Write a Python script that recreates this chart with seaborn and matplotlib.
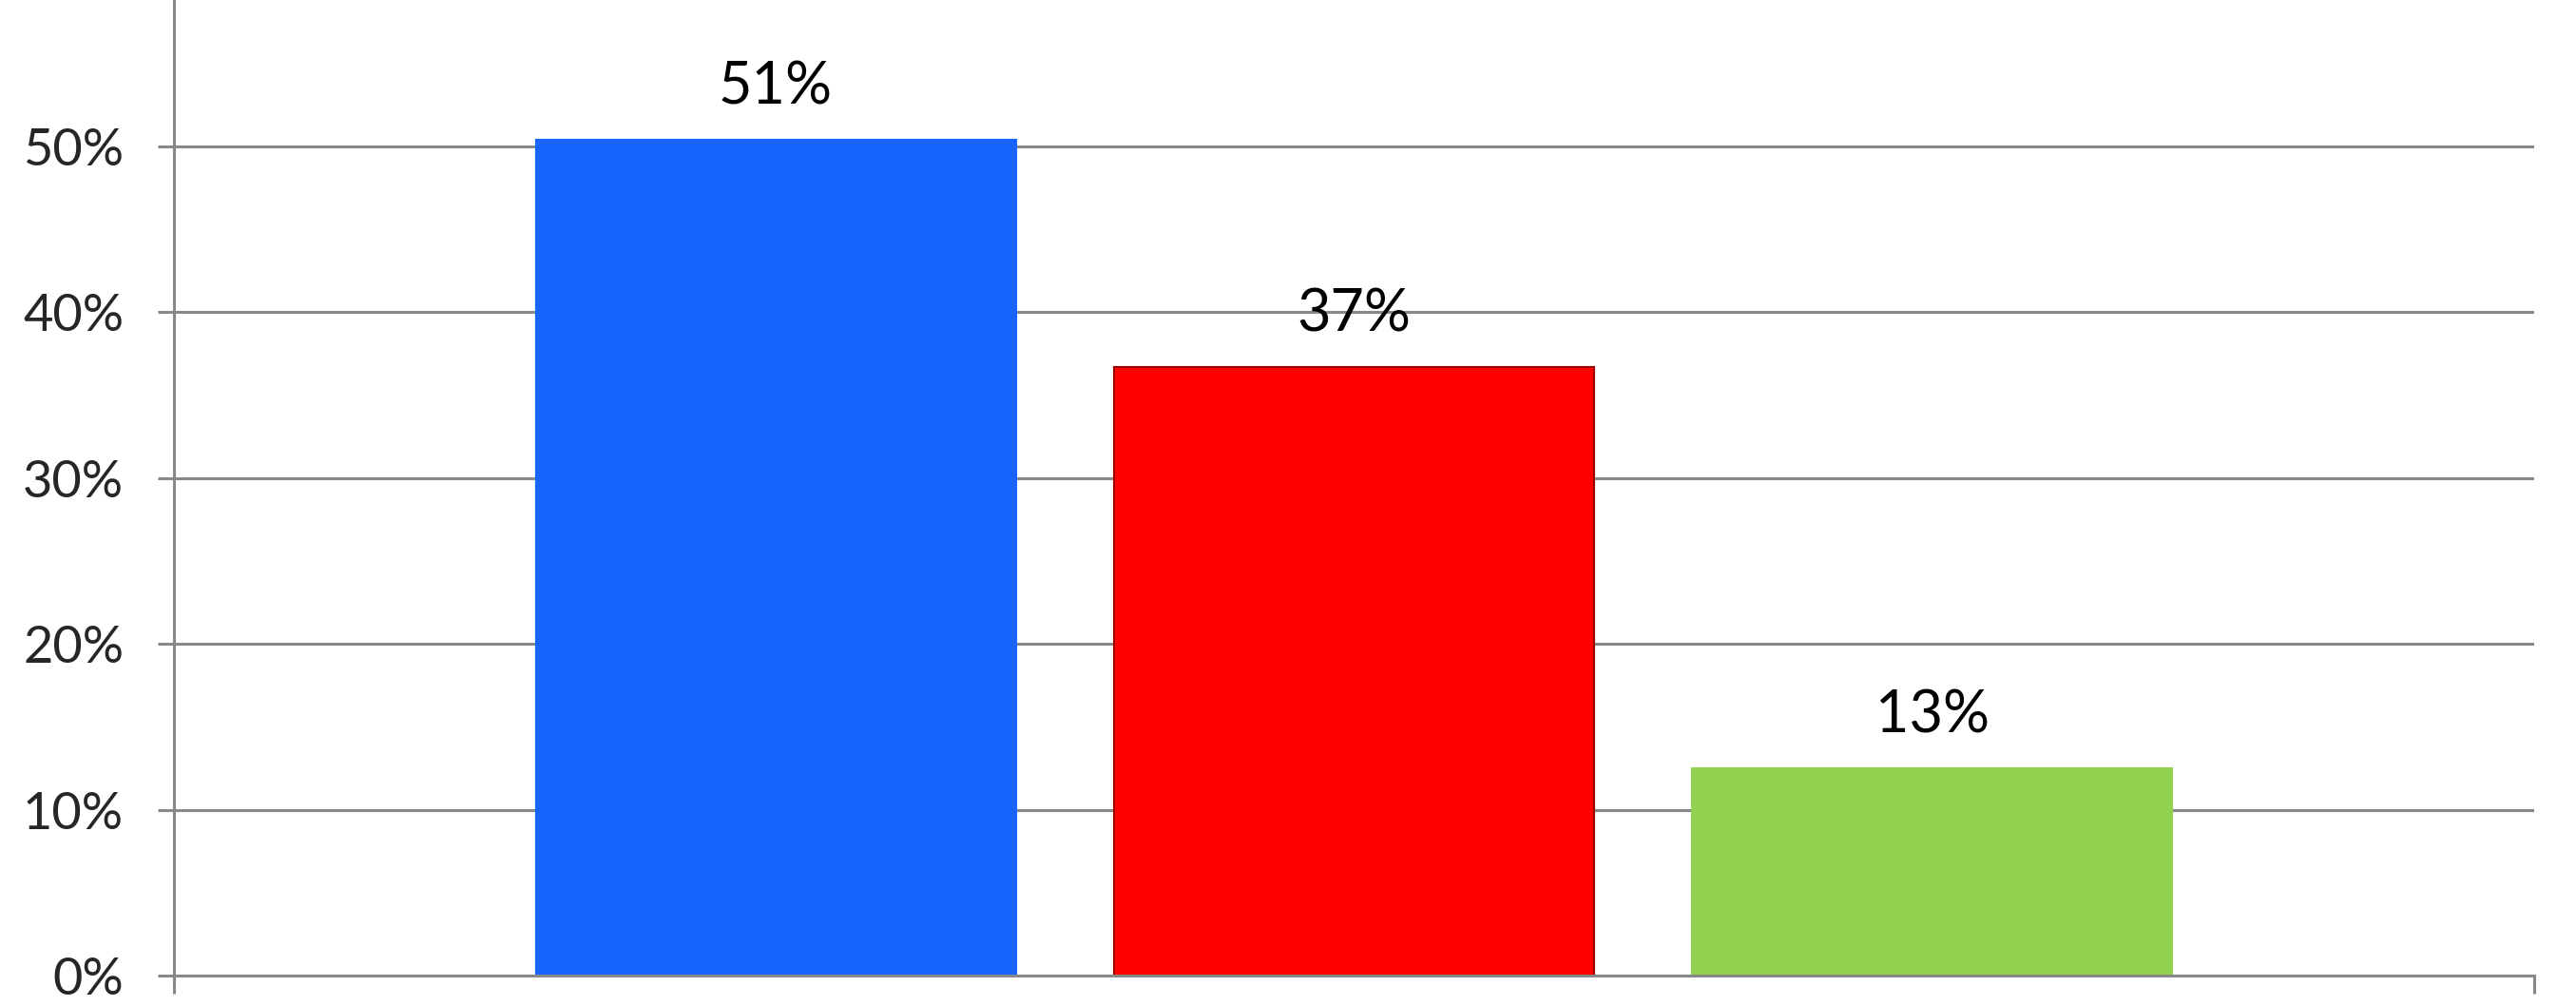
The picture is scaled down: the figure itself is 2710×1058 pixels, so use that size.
import matplotlib
matplotlib.use("Agg")
import matplotlib.pyplot as plt
import seaborn as sns
import pandas as pd

# data
series = ["A", "B", "C"]
values = [0.504, 0.367, 0.125]
labels = ["51%", "37%", "13%"]
colors = ["#1764FF", "#FF0000", "#92D050"]
edges = ["#1764FF", "#A00000", "#92D050"]
yticks = [0, 0.1, 0.2, 0.3, 0.4, 0.5]
ytick_labels = ["0%", "10%", "20%", "30%", "40%", "50%"]

df = pd.DataFrame({"cat": [""] * 3, "serie": series, "valor": values})

sns.set_style("white")
plt.rcParams["font.family"] = ["Lato", "DejaVu Sans"]

fig = plt.figure(figsize=(27.1, 10.58), dpi=100)
ax = fig.add_axes([0.0675, 0.0302, 0.9163, 0.9698])

sns.barplot(data=df, x="cat", y="valor", hue="serie", palette=colors,
            width=0.735, gap=0.17, legend=False, ax=ax, saturation=1)

for p, ec in zip(ax.patches, edges):
    p.set_edgecolor(ec)
    p.set_linewidth(1.5)

for p, lab in zip(ax.patches, labels):
    ax.annotate(lab, (p.get_x() + p.get_width() / 2, p.get_height()),
                xytext=(0, 19), textcoords="offset points",
                ha="center", va="bottom", fontsize=44, color="black")

ax.set_xlim(-0.5, 0.5)
ax.set_ylim(0, 0.588)
ax.set_yticks(yticks)
ax.set_yticklabels(ytick_labels, fontsize=39)
ax.set_xticks([-0.5, 0.5])
ax.set_xticklabels(["", ""])
ax.set_xlabel("")
ax.set_ylabel("")

ax.yaxis.grid(True, color="#888888", linewidth=2.2)
ax.set_axisbelow(True)
for s in ["top", "right"]:
    ax.spines[s].set_visible(False)
for s in ["left", "bottom"]:
    ax.spines[s].set_color("#888888")
    ax.spines[s].set_linewidth(2.2)

ax.tick_params(axis="y", length=12, width=2.2, color="#888888", pad=26, left=True)
ax.tick_params(axis="x", length=14, width=2.2, color="#888888", bottom=True)

fig.savefig("out.png", dpi=100)
